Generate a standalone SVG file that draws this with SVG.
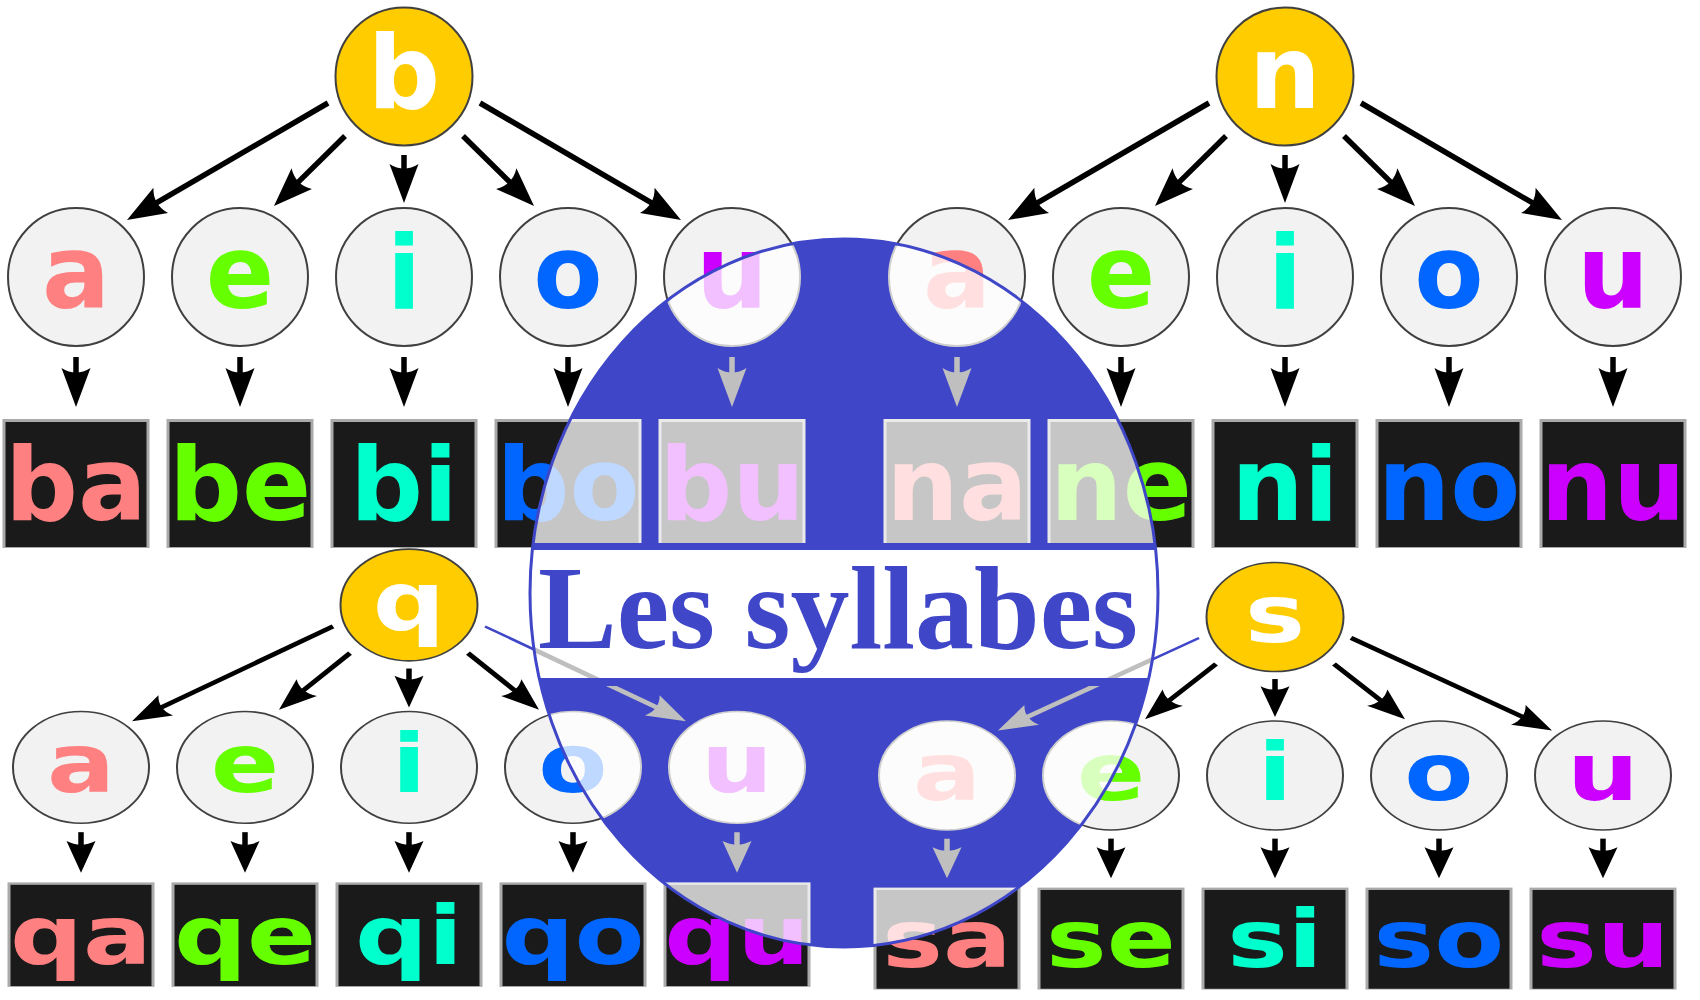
<svg xmlns="http://www.w3.org/2000/svg" width="1700" height="1000" viewBox="0 0 1700 1000">
<style>
.edge path{fill:none;stroke:#000;stroke-width:5.5;marker-end:url(#ah)}
.pedge path{fill:none;stroke:#bfbfbf;stroke-width:5.5;marker-end:url(#ahp)}
path.blue{stroke:#3f47c8;stroke-width:3;marker-end:none}
.root{fill:#ffcc00;stroke:#404040;stroke-width:2}
.vow{fill:#f2f2f2;stroke:#404040;stroke-width:2}
.pvow{fill:#fcfcfc;stroke:#cfcfcf;stroke-width:2}
.bb{fill:#aaaaaa}.bf{fill:#1a1a1a}
.pbb{fill:#eaeaea}.pbf{fill:#c6c6c6}
text.L{font-family:"DejaVu Sans","Liberation Sans",sans-serif;font-weight:bold;font-size:101px;text-anchor:middle}
text.S{font-family:"DejaVu Sans","Liberation Sans",sans-serif;font-weight:bold;font-size:102px;text-anchor:middle}
.cw{fill:#ffffff}.ca{fill:#ff8080}.ce{fill:#66ff00}.ci{fill:#00ffcc}.co{fill:#0066ff}.cu{fill:#cc00ff}
.pa{fill:#ffdfdf}.pe{fill:#d9ffbf}.pi{fill:#bffff2}.po{fill:#bfd8ff}.pu{fill:#f2bfff}
.title{font-family:"Liberation Serif","Times New Roman",serif;font-weight:bold;font-size:118px;fill:#3f47c8;text-anchor:middle}
</style>
<defs>
<marker id="ah" markerUnits="userSpaceOnUse" markerWidth="42" markerHeight="32" viewBox="0 -16 42 32" refX="5" refY="0" orient="auto" overflow="visible">
<path d="M39,0 L0,-14.5 C6,-5 6,5 0,14.5 Z" fill="#000"/>
</marker>
<marker id="ahp" markerUnits="userSpaceOnUse" markerWidth="42" markerHeight="32" viewBox="0 -16 42 32" refX="5" refY="0" orient="auto" overflow="visible">
<path d="M39,0 L0,-14.5 C6,-5 6,5 0,14.5 Z" fill="#bfbfbf"/>
</marker>
<clipPath id="lensClip"><ellipse cx="844" cy="593" rx="314" ry="354"/></clipPath>
</defs>
<rect width="1700" height="1000" fill="#ffffff"/>

<!-- Tree b -->
<g id="tree-b" transform="translate(404,0)">
<g id="edges-b" class="edge">
<path d="M-76,103 L-247.6,202.9"/><path d="M-59,136 L-105.8,182.1"/><path d="M0,155 L0,169"/><path d="M59,136 L105.8,182.1"/><path d="M76,103 L247.6,202.9"/>
<path d="M-328,357 V373"/><path d="M-164,357 V373"/><path d="M0,357 V373"/><path d="M164,357 V373"/><path d="M328,357 V373"/>
</g>
<g id="node-b"><ellipse class="root" cx="0" cy="76.5" rx="68.5" ry="69"/><text class="L cw" x="0" y="108">b</text></g>
<g id="node-b-a"><ellipse class="vow" cx="-328" cy="277" rx="68" ry="69"/><text class="L ca" x="-328" y="308">a</text></g>
<g id="node-b-e"><ellipse class="vow" cx="-164" cy="277" rx="68" ry="69"/><text class="L ce" x="-164" y="308">e</text></g>
<g id="node-b-i"><ellipse class="vow" cx="0" cy="277" rx="68" ry="69"/><text class="L ci" x="0" y="308">i</text></g>
<g id="node-b-o"><ellipse class="vow" cx="164" cy="277" rx="68" ry="69"/><text class="L co" x="164" y="308">o</text></g>
<g id="node-b-u"><ellipse class="vow" cx="328" cy="277" rx="68" ry="69"/><text class="L cu" x="328" y="308">u</text></g>
<g id="node-ba"><rect class="bb" x="-401.5" y="419" width="147" height="129"/><rect class="bf" x="-398.5" y="422" width="141" height="125"/><text class="S ca" x="-328" y="520">ba</text></g>
<g id="node-be"><rect class="bb" x="-237.5" y="419" width="147" height="129"/><rect class="bf" x="-234.5" y="422" width="141" height="125"/><text class="S ce" x="-164" y="520">be</text></g>
<g id="node-bi"><rect class="bb" x="-73.5" y="419" width="147" height="129"/><rect class="bf" x="-70.5" y="422" width="141" height="125"/><text class="S ci" x="0" y="520">bi</text></g>
<g id="node-bo"><rect class="bb" x="90.5" y="419" width="147" height="129"/><rect class="bf" x="93.5" y="422" width="141" height="125"/><text class="S co" x="164" y="520">bo</text></g>
<g id="node-bu"><rect class="bb" x="254.5" y="419" width="147" height="129"/><rect class="bf" x="257.5" y="422" width="141" height="125"/><text class="S cu" x="328" y="520">bu</text></g>
</g>

<!-- Tree n -->
<g id="tree-n" transform="translate(1285,0)">
<g id="edges-n" class="edge">
<path d="M-76,103 L-247.6,202.9"/><path d="M-59,136 L-105.8,182.1"/><path d="M0,155 L0,169"/><path d="M59,136 L105.8,182.1"/><path d="M76,103 L247.6,202.9"/>
<path d="M-328,357 V373"/><path d="M-164,357 V373"/><path d="M0,357 V373"/><path d="M164,357 V373"/><path d="M328,357 V373"/>
</g>
<g id="node-n"><ellipse class="root" cx="0" cy="76.5" rx="68.5" ry="69"/><text class="L cw" x="0" y="108">n</text></g>
<g id="node-n-a"><ellipse class="vow" cx="-328" cy="277" rx="68" ry="69"/><text class="L ca" x="-328" y="308">a</text></g>
<g id="node-n-e"><ellipse class="vow" cx="-164" cy="277" rx="68" ry="69"/><text class="L ce" x="-164" y="308">e</text></g>
<g id="node-n-i"><ellipse class="vow" cx="0" cy="277" rx="68" ry="69"/><text class="L ci" x="0" y="308">i</text></g>
<g id="node-n-o"><ellipse class="vow" cx="164" cy="277" rx="68" ry="69"/><text class="L co" x="164" y="308">o</text></g>
<g id="node-n-u"><ellipse class="vow" cx="328" cy="277" rx="68" ry="69"/><text class="L cu" x="328" y="308">u</text></g>
<g id="node-na"><rect class="bb" x="-401.5" y="419" width="147" height="129"/><rect class="bf" x="-398.5" y="422" width="141" height="125"/><text class="S ca" x="-328" y="520">na</text></g>
<g id="node-ne"><rect class="bb" x="-237.5" y="419" width="147" height="129"/><rect class="bf" x="-234.5" y="422" width="141" height="125"/><text class="S ce" x="-164" y="520">ne</text></g>
<g id="node-ni"><rect class="bb" x="-73.5" y="419" width="147" height="129"/><rect class="bf" x="-70.5" y="422" width="141" height="125"/><text class="S ci" x="0" y="520">ni</text></g>
<g id="node-no"><rect class="bb" x="90.5" y="419" width="147" height="129"/><rect class="bf" x="93.5" y="422" width="141" height="125"/><text class="S co" x="164" y="520">no</text></g>
<g id="node-nu"><rect class="bb" x="254.5" y="419" width="147" height="129"/><rect class="bf" x="257.5" y="422" width="141" height="125"/><text class="S cu" x="328" y="520">nu</text></g>
</g>

<!-- Tree q -->
<g id="tree-q" transform="translate(409,543) scale(1,0.81)">
<g id="edges-q" class="edge">
<path d="M-76,103 L-247.6,202.9"/><path d="M-59,136 L-105.8,182.1"/><path d="M0,155 L0,169"/><path d="M59,136 L105.8,182.1"/><path class="blue" d="M76,103 L247.6,202.9"/>
<path d="M-328,357 V373"/><path d="M-164,357 V373"/><path d="M0,357 V373"/><path d="M164,357 V373"/><path d="M328,357 V373"/>
</g>
<g id="node-q"><ellipse class="root" cx="0" cy="76.5" rx="68.5" ry="69"/><text class="L cw" x="0" y="108">q</text></g>
<g id="node-q-a"><ellipse class="vow" cx="-328" cy="277" rx="68" ry="69"/><text class="L ca" x="-328" y="308">a</text></g>
<g id="node-q-e"><ellipse class="vow" cx="-164" cy="277" rx="68" ry="69"/><text class="L ce" x="-164" y="308">e</text></g>
<g id="node-q-i"><ellipse class="vow" cx="0" cy="277" rx="68" ry="69"/><text class="L ci" x="0" y="308">i</text></g>
<g id="node-q-o"><ellipse class="vow" cx="164" cy="277" rx="68" ry="69"/><text class="L co" x="164" y="308">o</text></g>
<g id="node-q-u"><ellipse class="vow" cx="328" cy="277" rx="68" ry="69"/><text class="L cu" x="328" y="308">u</text></g>
<g id="node-qa"><rect class="bb" x="-401.5" y="419" width="147" height="129"/><rect class="bf" x="-398.5" y="422" width="141" height="125"/><text class="S ca" x="-328" y="520">qa</text></g>
<g id="node-qe"><rect class="bb" x="-237.5" y="419" width="147" height="129"/><rect class="bf" x="-234.5" y="422" width="141" height="125"/><text class="S ce" x="-164" y="520">qe</text></g>
<g id="node-qi"><rect class="bb" x="-73.5" y="419" width="147" height="129"/><rect class="bf" x="-70.5" y="422" width="141" height="125"/><text class="S ci" x="0" y="520">qi</text></g>
<g id="node-qo"><rect class="bb" x="90.5" y="419" width="147" height="129"/><rect class="bf" x="93.5" y="422" width="141" height="125"/><text class="S co" x="164" y="520">qo</text></g>
<g id="node-qu"><rect class="bb" x="254.5" y="419" width="147" height="129"/><rect class="bf" x="257.5" y="422" width="141" height="125"/><text class="S cu" x="328" y="520">qu</text></g>
</g>

<!-- Tree s -->
<g id="tree-s" transform="translate(1275,556.6) scale(1,0.79)">
<g id="edges-s" class="edge">
<path class="blue" d="M-76,103 L-247.6,202.9"/><path d="M-59,136 L-105.8,182.1"/><path d="M0,155 L0,169"/><path d="M59,136 L105.8,182.1"/><path d="M76,103 L247.6,202.9"/>
<path d="M-328,357 V373"/><path d="M-164,357 V373"/><path d="M0,357 V373"/><path d="M164,357 V373"/><path d="M328,357 V373"/>
</g>
<g id="node-s"><ellipse class="root" cx="0" cy="76.5" rx="68.5" ry="69"/><text class="L cw" x="0" y="108">s</text></g>
<g id="node-s-a"><ellipse class="vow" cx="-328" cy="277" rx="68" ry="69"/><text class="L ca" x="-328" y="308">a</text></g>
<g id="node-s-e"><ellipse class="vow" cx="-164" cy="277" rx="68" ry="69"/><text class="L ce" x="-164" y="308">e</text></g>
<g id="node-s-i"><ellipse class="vow" cx="0" cy="277" rx="68" ry="69"/><text class="L ci" x="0" y="308">i</text></g>
<g id="node-s-o"><ellipse class="vow" cx="164" cy="277" rx="68" ry="69"/><text class="L co" x="164" y="308">o</text></g>
<g id="node-s-u"><ellipse class="vow" cx="328" cy="277" rx="68" ry="69"/><text class="L cu" x="328" y="308">u</text></g>
<g id="node-sa"><rect class="bb" x="-401.5" y="419" width="147" height="129"/><rect class="bf" x="-398.5" y="422" width="141" height="125"/><text class="S ca" x="-328" y="520">sa</text></g>
<g id="node-se"><rect class="bb" x="-237.5" y="419" width="147" height="129"/><rect class="bf" x="-234.5" y="422" width="141" height="125"/><text class="S ce" x="-164" y="520">se</text></g>
<g id="node-si"><rect class="bb" x="-73.5" y="419" width="147" height="129"/><rect class="bf" x="-70.5" y="422" width="141" height="125"/><text class="S ci" x="0" y="520">si</text></g>
<g id="node-so"><rect class="bb" x="90.5" y="419" width="147" height="129"/><rect class="bf" x="93.5" y="422" width="141" height="125"/><text class="S co" x="164" y="520">so</text></g>
<g id="node-su"><rect class="bb" x="254.5" y="419" width="147" height="129"/><rect class="bf" x="257.5" y="422" width="141" height="125"/><text class="S cu" x="328" y="520">su</text></g>
</g>

<!-- Lens -->
<g id="lens">
<g clip-path="url(#lensClip)">
<ellipse cx="844" cy="593" rx="314" ry="354" fill="#3f47c8"/>
<rect x="500" y="550" width="700" height="128" fill="#ffffff"/>
<g id="lens-b" transform="translate(404,0)">
<g class="pedge"><path d="M164,357 V373"/><path d="M328,357 V373"/></g>
<ellipse class="pvow" cx="164" cy="277" rx="68" ry="69"/><text class="L po" x="164" y="308">o</text>
<ellipse class="pvow" cx="328" cy="277" rx="68" ry="69"/><text class="L pu" x="328" y="308">u</text>
<rect class="pbb" x="90.5" y="419" width="147" height="129"/><rect class="pbf" x="93.5" y="422" width="141" height="125"/><text class="S po" x="164" y="520">bo</text>
<rect class="pbb" x="254.5" y="419" width="147" height="129"/><rect class="pbf" x="257.5" y="422" width="141" height="125"/><text class="S pu" x="328" y="520">bu</text>
</g>
<g id="lens-n" transform="translate(1285,0)">
<g class="pedge"><path d="M-328,357 V373"/><path d="M-164,357 V373"/></g>
<ellipse class="pvow" cx="-328" cy="277" rx="68" ry="69"/><text class="L pa" x="-328" y="308">a</text>
<ellipse class="pvow" cx="-164" cy="277" rx="68" ry="69"/><text class="L pe" x="-164" y="308">e</text>
<rect class="pbb" x="-401.5" y="419" width="147" height="129"/><rect class="pbf" x="-398.5" y="422" width="141" height="125"/><text class="S pa" x="-328" y="520">na</text>
<rect class="pbb" x="-237.5" y="419" width="147" height="129"/><rect class="pbf" x="-234.5" y="422" width="141" height="125"/><text class="S pe" x="-164" y="520">ne</text>
</g>
<g id="lens-q" transform="translate(409,543) scale(1,0.81)">
<g class="pedge"><path d="M59,136 L105.8,182.1"/><path d="M76,103 L247.6,202.9"/><path d="M164,357 V373"/><path d="M328,357 V373"/></g>
<ellipse class="pvow" cx="164" cy="277" rx="68" ry="69"/><text class="L po" x="164" y="308">o</text>
<ellipse class="pvow" cx="328" cy="277" rx="68" ry="69"/><text class="L pu" x="328" y="308">u</text>
<rect class="pbb" x="90.5" y="419" width="147" height="129"/><rect class="pbf" x="93.5" y="422" width="141" height="125"/><text class="S po" x="164" y="520">qo</text>
<rect class="pbb" x="254.5" y="419" width="147" height="129"/><rect class="pbf" x="257.5" y="422" width="141" height="125"/><text class="S pu" x="328" y="520">qu</text>
</g>
<g id="lens-s" transform="translate(1275,556.6) scale(1,0.79)">
<g class="pedge"><path d="M-76,103 L-247.6,202.9"/><path d="M-59,136 L-105.8,182.1"/><path d="M-328,357 V373"/><path d="M-164,357 V373"/></g>
<ellipse class="pvow" cx="-328" cy="277" rx="68" ry="69"/><text class="L pa" x="-328" y="308">a</text>
<ellipse class="pvow" cx="-164" cy="277" rx="68" ry="69"/><text class="L pe" x="-164" y="308">e</text>
<rect class="pbb" x="-401.5" y="419" width="147" height="129"/><rect class="pbf" x="-398.5" y="422" width="141" height="125"/><text class="S pa" x="-328" y="520">sa</text>
<rect class="pbb" x="-237.5" y="419" width="147" height="129"/><rect class="pbf" x="-234.5" y="422" width="141" height="125"/><text class="S pe" x="-164" y="520">se</text>
</g>
<rect x="500" y="543" width="700" height="7" fill="#3f47c8"/>
<rect x="500" y="678" width="700" height="8" fill="#3f47c8"/>
</g>
<text class="title" x="838" y="648">Les syllabes</text>
<ellipse cx="844" cy="593" rx="314" ry="354" fill="none" stroke="#3f47c8" stroke-width="3"/>
</g>
</svg>
